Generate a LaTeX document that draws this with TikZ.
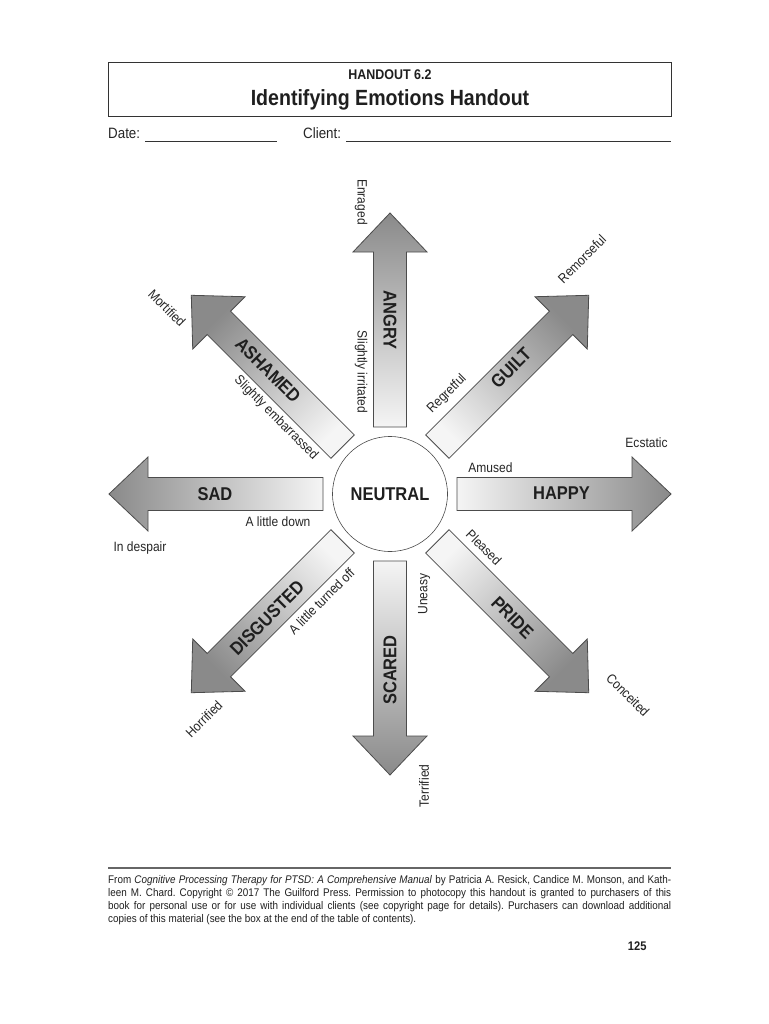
\documentclass[tikz,border=0pt]{standalone}
\usepackage{fontspec}
\setmainfont{Liberation Sans}[FakeStretch=0.89]

\newcommand{\emoshape}{(67,-16.5) -- (242,-16.5) -- (242,-37) -- (281,0) -- (242,37) -- (242,16.5) -- (67,16.5) -- cycle}

\tikzset{
  emoarrow/.style={draw=black!70, line width=0.8pt, left color=black!4, right color=black!46},
  mood/.style={font=\fontsize{18.5}{20}\selectfont\bfseries, text=black!88, inner sep=0pt},
  feel/.style={font=\fontsize{13.5}{15}\selectfont, text=black!85, inner sep=0pt}
}

\begin{document}
\frenchspacing
\begin{tikzpicture}[x=1pt,y=-1pt]

\useasboundingbox (0,0) rectangle (768,1024);
\fill[white] (0,0) rectangle (768,1024);

% header
\node[draw=black!80, line width=0.9pt, minimum width=563pt, minimum height=54pt, inner sep=0pt] (header) at (389.5,89) {};
\node[font=\fontsize{14}{16}\selectfont\bfseries, text=black!88] (handout) at (390,75) {HANDOUT 6.2};
\node[font=\fontsize{22}{24}\selectfont\bfseries, text=black!88] (title) at (390,99.5) {Identifying Emotions Handout};

\node[feel, font=\fontsize{15}{17}\selectfont, anchor=base west] (date) at (108,139) {Date:};
\node[feel, font=\fontsize{15}{17}\selectfont, anchor=base west] (client) at (303,139) {Client:};
\draw[black!80, line width=0.8pt] (145,141) -- (277,141);
\draw[black!80, line width=0.8pt] (346,141) -- (671,141);

% centre
\node[circle, draw=black!70, line width=0.6pt, fill=white, minimum size=115pt, mood] (neutral) at (390,494) {NEUTRAL};

% arrows
\begin{scope}[shift={(neutral.center)}]
\shadedraw[emoarrow, shading angle=90,  rotate=0]   \emoshape;
\shadedraw[emoarrow, shading angle=135, rotate=45]  \emoshape;
\shadedraw[emoarrow, shading angle=180, rotate=90]  \emoshape;
\shadedraw[emoarrow, shading angle=225, rotate=135] \emoshape;
\shadedraw[emoarrow, shading angle=270, rotate=180] \emoshape;
\shadedraw[emoarrow, shading angle=315, rotate=225] \emoshape;
\shadedraw[emoarrow, shading angle=0,   rotate=270] \emoshape;
\shadedraw[emoarrow, shading angle=45,  rotate=315] \emoshape;
\end{scope}

% angry
\node[mood, rotate=-90] (angry) at (390,320) {ANGRY};
\node[feel, rotate=-90] (irritated) at (361,372) {Slightly irritated};
\node[feel, rotate=-90] (enraged) at (361,202) {Enraged};

% ashamed
\node[mood, rotate=-45] (ashamed) at (268,370) {ASHAMED};
\node[feel, rotate=-45] (embarrassed) at (276,418) {Slightly embarrassed};
\node[feel, rotate=-45] (mortified) at (167,308) {Mortified};

% guilt
\node[mood, rotate=45] (guilt) at (511,368) {GUILT};
\node[feel, rotate=45] (regretful) at (447,394) {Regretful};
\node[feel, rotate=45] (remorseful) at (582,259) {Remorseful};

% sad
\node[mood] (sad) at (215,494) {SAD};
\node[feel] (down) at (278,521.5) {A little down};
\node[feel] (despair) at (140,548) {In despair};

% happy
\node[mood] (happy) at (561.5,493.5) {HAPPY};
\node[feel] (amused) at (490.5,468) {Amused};
\node[feel] (ecstatic) at (646.5,443) {Ecstatic};

% disgusted
\node[mood, rotate=45] (disgusted) at (267,618) {DISGUSTED};
\node[feel, rotate=45] (turnedoff) at (321.5,601) {A little turned off};
\node[feel, rotate=45] (horrified) at (204,719) {Horrified};

% scared
\node[mood, rotate=90] (scared) at (390,670) {SCARED};
\node[feel, rotate=90] (uneasy) at (424,594) {Uneasy};
\node[feel, rotate=90] (terrified) at (424,786) {Terrified};

% pride
\node[mood, rotate=-45] (pride) at (512.5,617.5) {PRIDE};
\node[feel, rotate=-45] (pleased) at (484,547.5) {Pleased};
\node[feel, rotate=-45] (conceited) at (628,695) {Conceited};

% footer
\draw[black!60, line width=1.3pt] (108,868) -- (671,868);
\node[anchor=north west, inner sep=0pt, text width=563pt, align=justify, text=black!88,
      font=\fontsize{11.1}{13}\selectfont] (source) at (108,875)
  {From \textit{Cognitive Processing Therapy for PTSD: A Comprehensive Manual} by Patricia A. Resick, Candice M. Monson, and\nobreak\ Kath-\linebreak
   leen M. Chard. Copyright © 2017 The Guilford Press. Permission to photocopy this handout is granted to purchasers of this\linebreak
   book for personal use or for use with individual clients (see copyright page for details). Purchasers can download additional\linebreak
   copies of this material (see the box at the end of the table of contents).};
\node[font=\fontsize{12.5}{14}\selectfont\bfseries, text=black!88, anchor=east] (page) at (650,946) {125};

\end{tikzpicture}
\end{document}
